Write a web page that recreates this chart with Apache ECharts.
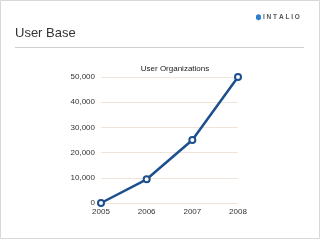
<!DOCTYPE html>
<html>
<head>
<meta charset="utf-8">
<script src="https://cdn.jsdelivr.net/npm/echarts@6/dist/echarts.min.js"></script>
<style>
html, body { margin: 0; padding: 0; background: #fff; }
#chart { width: 320px; height: 240px; }
</style>
</head>
<body>
<div id="chart"></div>
<script>
var years = ['2005', '2006', '2007', '2008'];
var users = [0, 9400, 25000, 50000];
var yTicks = [0, 10000, 20000, 30000, 40000, 50000];

var myChart = echarts.init(document.getElementById('chart'));

var option = {
	animation: false,
	textStyle: { fontFamily: 'Liberation Sans, Arial, sans-serif' },
	title: {
		text: 'User Organizations',
		left: 170,
		top: 60,
		textAlign: 'center',
		textStyle: { fontSize: 8, fontWeight: 'normal', color: '#222' }
	},
	grid: { left: 101, right: 82, top: 77, bottom: 37 },
	xAxis: {
		type: 'category',
		data: years,
		boundaryGap: false,
		axisLine: { show: false },
		axisTick: { show: false },
		axisLabel: { fontSize: 8, color: '#333', margin: 5 }
	},
	yAxis: {
		type: 'value',
		min: 0,
		max: 50000,
		interval: 10000,
		axisLine: { show: false },
		axisTick: { show: false },
		axisLabel: {
			fontSize: 8, color: '#333', margin: 6,
			formatter: function (v) { return v.toLocaleString('en-US'); }
		},
		splitLine: { lineStyle: { color: '#efe4dc', width: 1 } }
	},
	graphic: [
		{ type: 'rect', shape: { x: 0.5, y: 0.5, width: 319, height: 238 }, style: { fill: 'none', stroke: '#d8d8d8', lineWidth: 1 } },
		{ type: 'text', left: 15, top: 27, style: { text: 'User Base', fontSize: 13, fill: '#333', fontFamily: 'Liberation Sans, Arial' } },
		{ type: 'line', shape: { x1: 15, y1: 47.5, x2: 304, y2: 47.5 }, style: { stroke: '#d0d0d0', lineWidth: 1 } },
		{ type: 'polygon', shape: { points: [[256, 15.5], [258.5, 14], [261, 15.5], [261, 19], [258.5, 20.5], [256, 19]] }, style: { fill: '#2f7fd0' } },
		{ type: 'text', left: 263, top: 14, style: { text: 'I N T A L I O', fontSize: 6.5, fontWeight: 'bold', fill: '#555', fontFamily: 'Liberation Sans, Arial' } }
	],
	series: [{
		name: 'User Organizations',
		type: 'line',
		data: users,
		symbol: 'circle',
		symbolSize: 6,
		lineStyle: { color: '#1c4f8e', width: 2.5 },
		itemStyle: { color: '#fff', borderColor: '#1c4f8e', borderWidth: 2 }
	}]
};
myChart.setOption(option);
</script>
</body>
</html>
